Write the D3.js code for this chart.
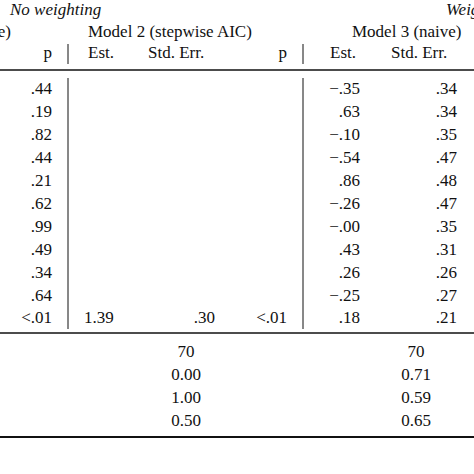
<!DOCTYPE html>
<html><head><meta charset="utf-8">
<script src="https://cdn.jsdelivr.net/npm/d3@7"></script>
<style>body{margin:0;background:#fff}text{font-family:"Liberation Serif","Times New Roman",Times,"DejaVu Serif",serif;font-size:17px;fill:#111}</style>
</head><body><svg id="c" width="474" height="474"></svg>
<script>
// table values (cropped view)
var model1P = ['.44','.19','.82','.44','.21','.62','.99','.49','.34','.64','<.01'];
var model2Est = ['','','','','','','','','','','1.39'];
var model2SE = ['','','','','','','','','','','.30'];
var model2P = ['','','','','','','','','','','<.01'];
var model3Est = ['\u2212.35','.63','\u2212.10','\u2212.54','.86','\u2212.26','\u2212.00','.43','.26','\u2212.25','.18'];
var model3SE = ['.34','.34','.35','.47','.48','.47','.35','.31','.26','.27','.21'];
var summary2 = ['70','0.00','1.00','0.50'];
var summary3 = ['70','0.71','0.59','0.65'];

var svg = d3.select('#c');
var rowY = d3.scaleBand().domain(d3.range(model1P.length)).range([77, 329]);
var sumY = d3.scaleBand().domain(d3.range(summary2.length)).range([340, 432]);

function col(vals, x, anchor, scale) {
    svg.append('g').selectAll('text').data(vals).join('text')
        .attr('x', x).attr('y', function(d, i){ return scale(i) + scale.bandwidth() / 2; })
        .attr('dy', '0.35em').attr('text-anchor', anchor).text(function(d){ return d; });
}
col(model1P, 52, 'end', rowY);
col(model2Est, 84, 'start', rowY);
col(model2SE, 215, 'end', rowY);
col(model2P, 287, 'end', rowY);
col(model3Est, 360, 'end', rowY);
col(model3SE, 457, 'end', rowY);
col(summary2, 186, 'middle', sumY);
col(summary3, 416, 'middle', sumY);

// headers
function txt(x, y, s, anchor, italic) {
    return svg.append('text').attr('x', x).attr('y', y).attr('text-anchor', anchor)
        .style('font-style', italic ? 'italic' : null).text(s);
}
txt(10, 15, 'No weighting', 'start', true);
txt(446, 15, 'Weighting', 'start', true);
txt(-8, 37, '(e)', 'start');
txt(88, 37, 'Model 2 (stepwise AIC)', 'start');
txt(352, 37, 'Model 3 (naive)', 'start');
txt(52, 58, 'p', 'end');
txt(88, 58, 'Est.', 'start');
txt(148, 58, 'Std. Err.', 'start');
txt(287, 58, 'p', 'end');
txt(330, 58, 'Est.', 'start');
txt(391, 58, 'Std. Err.', 'start');

// rules
[[70, 1.5], [333, 1.5], [437, 2]].forEach(function(r){
    svg.append('line').attr('x1', 0).attr('x2', 474).attr('y1', r[0]).attr('y2', r[0])
        .attr('stroke', '#111').attr('stroke-width', r[1]);
});
[68, 303].forEach(function(x){
    svg.append('line').attr('x1', x).attr('x2', x).attr('y1', 44).attr('y2', 64).attr('stroke', '#111');
    svg.append('line').attr('x1', x).attr('x2', x).attr('y1', 78).attr('y2', 329).attr('stroke', '#111');
});
</script></body></html>
